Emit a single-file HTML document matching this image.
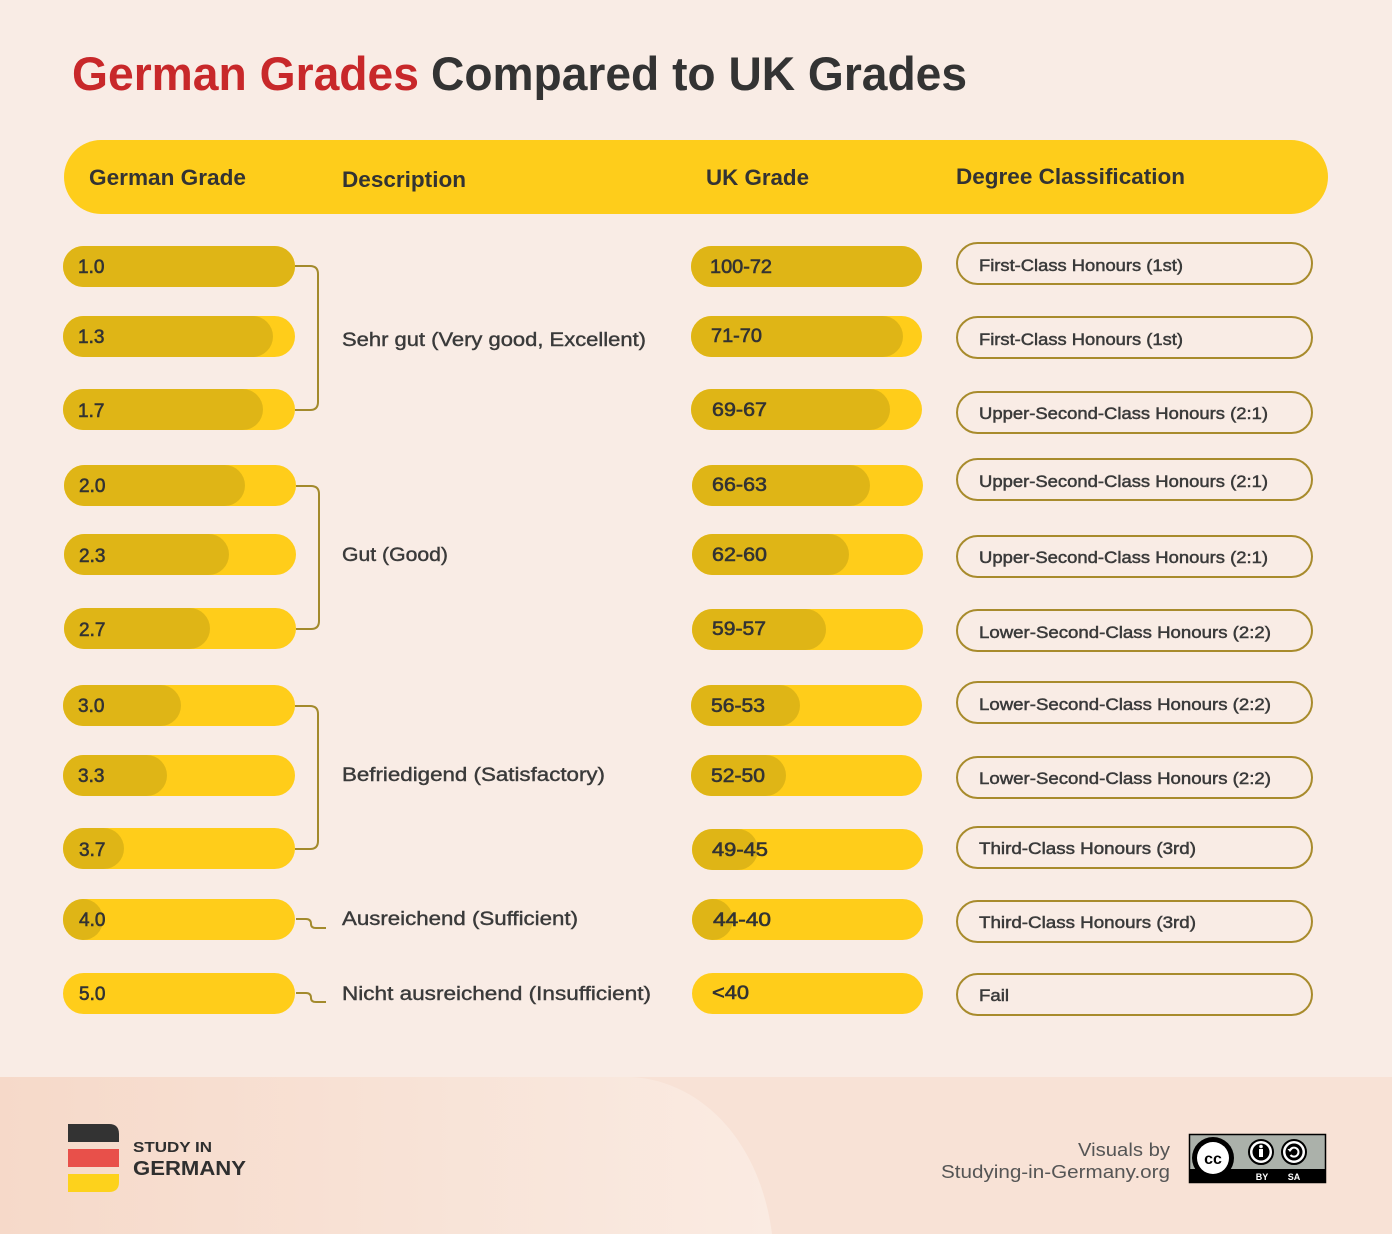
<!DOCTYPE html>
<html>
<head>
<meta charset="utf-8">
<style>
  html,body{margin:0;padding:0;background:#f9ece5;}
  svg{display:block;}
  text{font-family:"Liberation Sans",sans-serif;}
</style>
</head>
<body>
<svg width="1392" height="1234" viewBox="0 0 1392 1234" xmlns="http://www.w3.org/2000/svg">
  <defs>
    <linearGradient id="fg" x1="0" y1="0" x2="1" y2="0">
      <stop offset="0" stop-color="#f6d9c9"/>
      <stop offset="1" stop-color="#faebe2"/>
    </linearGradient>
  </defs>
  <rect x="0" y="0" width="1392" height="1234" fill="#f9ece5"/>

  <!-- Title -->
  <text x="72" y="90" font-size="47" font-weight="bold" fill="#c8282a" textLength="347" lengthAdjust="spacingAndGlyphs">German Grades</text>
  <text x="431" y="90" font-size="47" font-weight="bold" fill="#333333" textLength="536" lengthAdjust="spacingAndGlyphs">Compared to UK Grades</text>

  <!-- Header bar -->
  <rect x="64" y="140" width="1264" height="74" rx="37" fill="#fecd1b"/>
  <g font-size="22" font-weight="bold" fill="#333333">
    <text x="89" y="185" textLength="157" lengthAdjust="spacingAndGlyphs">German Grade</text>
    <text x="342" y="187" textLength="124" lengthAdjust="spacingAndGlyphs">Description</text>
    <text x="706" y="185" textLength="103" lengthAdjust="spacingAndGlyphs">UK Grade</text>
    <text x="956" y="184" textLength="229" lengthAdjust="spacingAndGlyphs">Degree Classification</text>
  </g>

  <!-- German bars -->
  <g>
    <rect x="63" y="246" width="232" height="41" rx="20.5" fill="#ffcd1a"/><rect x="63" y="246" width="232" height="41" rx="20.5" fill="#dfb516"/>
    <rect x="63" y="316" width="232" height="41" rx="20.5" fill="#ffcd1a"/><rect x="63" y="316" width="210" height="41" rx="20.5" fill="#dfb516"/>
    <rect x="63" y="389" width="232" height="41" rx="20.5" fill="#ffcd1a"/><rect x="63" y="389" width="200" height="41" rx="20.5" fill="#dfb516"/>
    <rect x="64" y="465" width="232" height="41" rx="20.5" fill="#ffcd1a"/><rect x="64" y="465" width="181" height="41" rx="20.5" fill="#dfb516"/>
    <rect x="64" y="534" width="232" height="41" rx="20.5" fill="#ffcd1a"/><rect x="64" y="534" width="165" height="41" rx="20.5" fill="#dfb516"/>
    <rect x="64" y="608" width="232" height="41" rx="20.5" fill="#ffcd1a"/><rect x="64" y="608" width="146" height="41" rx="20.5" fill="#dfb516"/>
    <rect x="63" y="685" width="232" height="41" rx="20.5" fill="#ffcd1a"/><rect x="63" y="685" width="118" height="41" rx="20.5" fill="#dfb516"/>
    <rect x="63" y="755" width="232" height="41" rx="20.5" fill="#ffcd1a"/><rect x="63" y="755" width="104" height="41" rx="20.5" fill="#dfb516"/>
    <rect x="63" y="828" width="232" height="41" rx="20.5" fill="#ffcd1a"/><rect x="63" y="828" width="61" height="41" rx="20.5" fill="#dfb516"/>
    <rect x="63" y="899" width="232" height="41" rx="20.5" fill="#ffcd1a"/><rect x="63" y="899" width="40" height="41" rx="20" fill="#dfb516"/>
    <rect x="63" y="973" width="232" height="41" rx="20.5" fill="#ffcd1a"/>
  </g>
  <g font-size="19" fill="#333333" stroke="#333333" stroke-width="0.6">
    <text x="78" y="273">1.0</text>
    <text x="78" y="343">1.3</text>
    <text x="78" y="417">1.7</text>
    <text x="79" y="492">2.0</text>
    <text x="79" y="562">2.3</text>
    <text x="79" y="636">2.7</text>
    <text x="78" y="712">3.0</text>
    <text x="78" y="782">3.3</text>
    <text x="79" y="856">3.7</text>
    <text x="79" y="926">4.0</text>
    <text x="79" y="1000">5.0</text>
  </g>

  <!-- Brackets -->
  <g fill="none" stroke="#a38a2c" stroke-width="2">
    <path d="M295 266 H310 Q318 266 318 274 V402 Q318 410 310 410 H295"/>
    <path d="M296 486 H311 Q319 486 319 494 V621 Q319 629 311 629 H296"/>
    <path d="M295 706 H310 Q318 706 318 714 V841 Q318 849 310 849 H295"/>
    <path d="M296 919 H306 Q311 919 311 924 Q311 928 316 928 H326"/>
    <path d="M296 993 H306 Q311 993 311 998 Q311 1002 316 1002 H326"/>
  </g>

  <!-- Descriptions -->
  <g font-size="19" fill="#3a3a3a" stroke="#3a3a3a" stroke-width="0.4">
    <text x="342" y="346" textLength="304" lengthAdjust="spacingAndGlyphs">Sehr gut (Very good, Excellent)</text>
    <text x="342" y="561" textLength="106" lengthAdjust="spacingAndGlyphs">Gut (Good)</text>
    <text x="342" y="781" textLength="263" lengthAdjust="spacingAndGlyphs">Befriedigend (Satisfactory)</text>
    <text x="342" y="925" textLength="236" lengthAdjust="spacingAndGlyphs">Ausreichend (Sufficient)</text>
    <text x="342" y="1000" textLength="309" lengthAdjust="spacingAndGlyphs">Nicht ausreichend (Insufficient)</text>
  </g>

  <!-- UK bars -->
  <g>
    <rect x="691" y="246" width="231" height="41" rx="20.5" fill="#ffcd1a"/><rect x="691" y="246" width="231" height="41" rx="20.5" fill="#dfb516"/>
    <rect x="691" y="316" width="231" height="41" rx="20.5" fill="#ffcd1a"/><rect x="691" y="316" width="212" height="41" rx="20.5" fill="#dfb516"/>
    <rect x="691" y="389" width="231" height="41" rx="20.5" fill="#ffcd1a"/><rect x="691" y="389" width="199" height="41" rx="20.5" fill="#dfb516"/>
    <rect x="692" y="465" width="231" height="41" rx="20.5" fill="#ffcd1a"/><rect x="692" y="465" width="178" height="41" rx="20.5" fill="#dfb516"/>
    <rect x="692" y="534" width="231" height="41" rx="20.5" fill="#ffcd1a"/><rect x="692" y="534" width="157" height="41" rx="20.5" fill="#dfb516"/>
    <rect x="692" y="609" width="231" height="41" rx="20.5" fill="#ffcd1a"/><rect x="692" y="609" width="134" height="41" rx="20.5" fill="#dfb516"/>
    <rect x="691" y="685" width="231" height="41" rx="20.5" fill="#ffcd1a"/><rect x="691" y="685" width="109" height="41" rx="20.5" fill="#dfb516"/>
    <rect x="691" y="755" width="231" height="41" rx="20.5" fill="#ffcd1a"/><rect x="691" y="755" width="95" height="41" rx="20.5" fill="#dfb516"/>
    <rect x="692" y="829" width="231" height="41" rx="20.5" fill="#ffcd1a"/><rect x="692" y="829" width="66" height="41" rx="20.5" fill="#dfb516"/>
    <rect x="692" y="899" width="231" height="41" rx="20.5" fill="#ffcd1a"/><rect x="692" y="899" width="41" height="41" rx="20.5" fill="#dfb516"/>
    <rect x="692" y="973" width="231" height="41" rx="20.5" fill="#ffcd1a"/>
  </g>
  <g font-size="19" fill="#333333" stroke="#333333" stroke-width="0.6">
    <text x="710" y="273" textLength="62" lengthAdjust="spacingAndGlyphs">100-72</text>
    <text x="711" y="342" textLength="51" lengthAdjust="spacingAndGlyphs">71-70</text>
    <text x="712" y="416" textLength="55" lengthAdjust="spacingAndGlyphs">69-67</text>
    <text x="712" y="491" textLength="55" lengthAdjust="spacingAndGlyphs">66-63</text>
    <text x="712" y="561" textLength="55" lengthAdjust="spacingAndGlyphs">62-60</text>
    <text x="712" y="635" textLength="54" lengthAdjust="spacingAndGlyphs">59-57</text>
    <text x="711" y="712" textLength="54" lengthAdjust="spacingAndGlyphs">56-53</text>
    <text x="711" y="782" textLength="54" lengthAdjust="spacingAndGlyphs">52-50</text>
    <text x="712" y="856" textLength="56" lengthAdjust="spacingAndGlyphs">49-45</text>
    <text x="713" y="926" textLength="58" lengthAdjust="spacingAndGlyphs">44-40</text>
    <text x="712" y="999" textLength="37" lengthAdjust="spacingAndGlyphs">&lt;40</text>
  </g>

  <!-- Degree boxes -->
  <g fill="none" stroke="#a88b2c" stroke-width="2">
    <rect x="957" y="243" width="355" height="41" rx="20.5"/>
    <rect x="957" y="317" width="355" height="41" rx="20.5"/>
    <rect x="957" y="392" width="355" height="41" rx="20.5"/>
    <rect x="957" y="459" width="355" height="41" rx="20.5"/>
    <rect x="957" y="536" width="355" height="41" rx="20.5"/>
    <rect x="957" y="610" width="355" height="41" rx="20.5"/>
    <rect x="957" y="682" width="355" height="41" rx="20.5"/>
    <rect x="957" y="757" width="355" height="41" rx="20.5"/>
    <rect x="957" y="827" width="355" height="41" rx="20.5"/>
    <rect x="957" y="901" width="355" height="41" rx="20.5"/>
    <rect x="957" y="974" width="355" height="41" rx="20.5"/>
  </g>
  <g font-size="17" fill="#3a3a3a" stroke="#3a3a3a" stroke-width="0.5">
    <text x="979" y="271" textLength="204" lengthAdjust="spacingAndGlyphs">First-Class Honours (1st)</text>
    <text x="979" y="345" textLength="204" lengthAdjust="spacingAndGlyphs">First-Class Honours (1st)</text>
    <text x="979" y="419" textLength="289" lengthAdjust="spacingAndGlyphs">Upper-Second-Class Honours (2:1)</text>
    <text x="979" y="487" textLength="289" lengthAdjust="spacingAndGlyphs">Upper-Second-Class Honours (2:1)</text>
    <text x="979" y="563" textLength="289" lengthAdjust="spacingAndGlyphs">Upper-Second-Class Honours (2:1)</text>
    <text x="979" y="638" textLength="292" lengthAdjust="spacingAndGlyphs">Lower-Second-Class Honours (2:2)</text>
    <text x="979" y="710" textLength="292" lengthAdjust="spacingAndGlyphs">Lower-Second-Class Honours (2:2)</text>
    <text x="979" y="784" textLength="292" lengthAdjust="spacingAndGlyphs">Lower-Second-Class Honours (2:2)</text>
    <text x="979" y="854" textLength="217" lengthAdjust="spacingAndGlyphs">Third-Class Honours (3rd)</text>
    <text x="979" y="928" textLength="217" lengthAdjust="spacingAndGlyphs">Third-Class Honours (3rd)</text>
    <text x="979" y="1001" textLength="30" lengthAdjust="spacingAndGlyphs">Fail</text>
  </g>

  <!-- Footer -->
  <rect x="0" y="1077" width="1392" height="157" fill="#f8e2d6"/>
  <path d="M0 1077 H630 C700 1080 760 1140 772 1234 H0 Z" fill="url(#fg)"/>

  <!-- Logo flag -->
  <path d="M68 1124 H109 Q119 1124 119 1134 V1142 H68 Z" fill="#333333"/>
  <rect x="68" y="1149" width="51" height="18" fill="#e8504a"/>
  <path d="M68 1174 H119 V1182 Q119 1192 109 1192 H68 Z" fill="#fdd21c"/>
  <text x="133" y="1152" font-size="15" font-weight="bold" fill="#2f2f2f" textLength="79" lengthAdjust="spacingAndGlyphs">STUDY IN</text>
  <text x="133" y="1175" font-size="20" font-weight="bold" fill="#2f2f2f" textLength="113" lengthAdjust="spacingAndGlyphs">GERMANY</text>

  <!-- Credits -->
  <text x="1170" y="1156" font-size="18" fill="#555555" text-anchor="end" textLength="92" lengthAdjust="spacingAndGlyphs">Visuals by</text>
  <text x="941" y="1178" font-size="18" fill="#555555" textLength="229" lengthAdjust="spacingAndGlyphs">Studying-in-Germany.org</text>

  <!-- CC badge -->
  <rect x="1189.5" y="1134.5" width="136" height="48" fill="#abb1aa" stroke="#000" stroke-width="1.5"/>
  <rect x="1190" y="1169" width="135" height="14" fill="#000"/>
  <circle cx="1213" cy="1158" r="21" fill="#000"/>
  <circle cx="1213" cy="1158" r="16" fill="#fff"/>
  <text x="1213" y="1164" font-size="16" font-weight="bold" fill="#000" text-anchor="middle">cc</text>
  <circle cx="1261" cy="1152" r="12" fill="#fff" stroke="#000" stroke-width="2"/>
  <circle cx="1261" cy="1152" r="8.5" fill="#000"/>
  <circle cx="1261" cy="1146.5" r="1.8" fill="#fff"/>
  <rect x="1259" y="1149" width="4" height="8" fill="#fff"/>
  <circle cx="1294" cy="1152" r="12" fill="#fff" stroke="#000" stroke-width="2"/>
  <circle cx="1294" cy="1152" r="8.5" fill="#000"/>
  <path d="M1290 1150 A4.5 4.5 0 1 1 1290.5 1155" fill="none" stroke="#fff" stroke-width="2"/>
  <path d="M1287.5 1149 L1290 1152 L1292.5 1149 Z" fill="#fff"/>
  <text x="1262" y="1180" font-size="9" font-weight="bold" fill="#fff" text-anchor="middle">BY</text>
  <text x="1294" y="1180" font-size="9" font-weight="bold" fill="#fff" text-anchor="middle">SA</text>
</svg>
</body>
</html>
